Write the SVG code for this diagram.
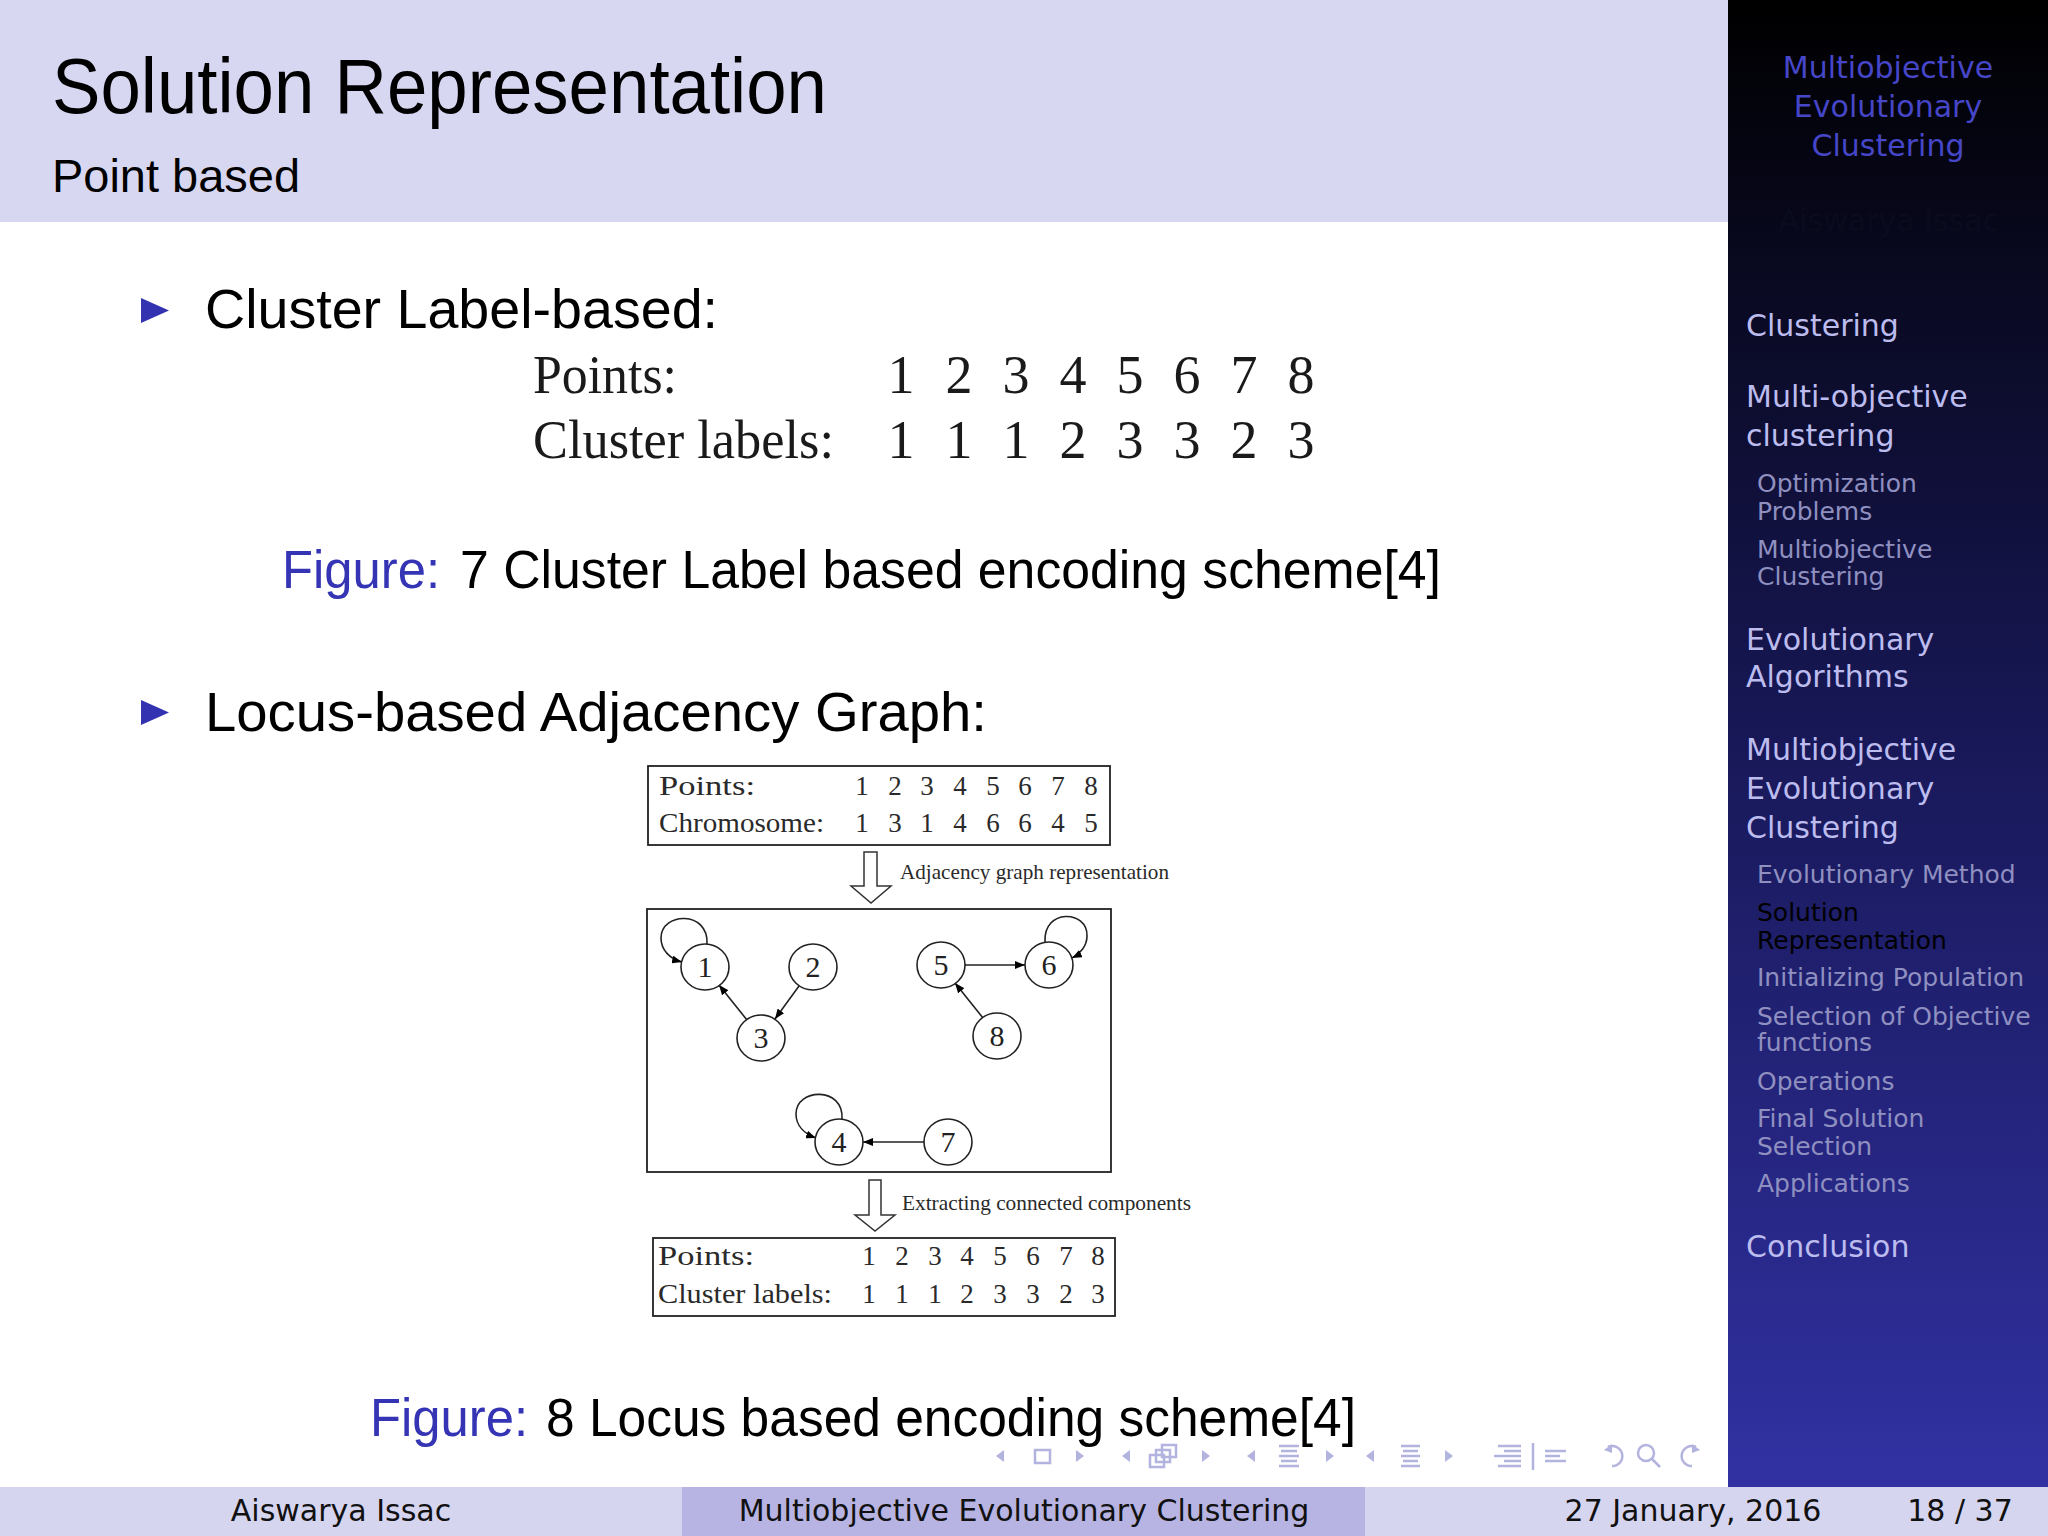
<svg xmlns="http://www.w3.org/2000/svg" width="2048" height="1536" viewBox="0 0 2048 1536">
<defs>
<linearGradient id="side" x1="0" y1="0" x2="0" y2="1">
<stop offset="0" stop-color="#000000"/>
<stop offset="0.5" stop-color="#181858"/>
<stop offset="1" stop-color="#3131a3"/>
</linearGradient>
<marker id="ah" markerUnits="userSpaceOnUse" markerWidth="10" markerHeight="8" refX="10" refY="4" orient="auto">
<path d="M0,0 L10,4 L0,8 z" fill="#000"/>
</marker>
<style>
.sans{font-family:"Liberation Sans",Arial,sans-serif}
.serif{font-family:"Liberation Serif","Times New Roman",serif}
.side{font-family:"DejaVu Sans",sans-serif}
.main{font-size:30px;fill:#bcbcef}
.sub{font-size:25px;fill:#8f90c0}
.blue{fill:#3434b4}
.node ellipse{fill:#fff;stroke:#222;stroke-width:1.6}
.node text{font-family:"Liberation Serif","Times New Roman",serif;font-size:30px;text-anchor:middle;fill:#222}
.edge{fill:none;stroke:#222;stroke-width:1.6;marker-end:url(#ah)}
.box{fill:#fff;stroke:#222;stroke-width:1.8}
.tb{font-family:"Liberation Serif","Times New Roman",serif;font-size:27px;fill:#2a2a2a}
.num{text-anchor:middle}
.nav{fill:none;stroke:#b3b3df;stroke-width:2.5}
.navf{fill:#b3b3df}
</style>
</defs>

<!-- background -->
<rect x="0" y="0" width="2048" height="1536" fill="#ffffff"/>
<rect x="0" y="0" width="1728" height="222" fill="#d8d7f1"/>
<rect x="1728" y="0" width="320" height="1487" fill="url(#side)"/>

<!-- header -->
<g id="header">
<text class="sans" x="52" y="113" font-size="78" textLength="775" lengthAdjust="spacingAndGlyphs" fill="#000">Solution Representation</text>
<text class="sans" x="52" y="192" font-size="46" textLength="248" lengthAdjust="spacingAndGlyphs" fill="#000">Point based</text>
</g>

<!-- bullet 1 -->
<g id="bullet1">
<polygon points="141,298 141,323 169,310.5" fill="#3333b2"/>
<text class="sans" x="205" y="328" font-size="56" textLength="513" lengthAdjust="spacingAndGlyphs" fill="#000">Cluster Label-based:</text>
</g>

<!-- cluster label table -->
<g id="labelTable" class="serif" font-size="54" fill="#1a1a1a">
<text x="533" y="393" textLength="144" lengthAdjust="spacingAndGlyphs">Points:</text>
<text x="533" y="458" textLength="301" lengthAdjust="spacingAndGlyphs">Cluster labels:</text>
<g text-anchor="middle">
<text x="901" y="393">1</text><text x="959" y="393">2</text><text x="1016" y="393">3</text><text x="1073" y="393">4</text>
<text x="1130" y="393">5</text><text x="1187" y="393">6</text><text x="1244" y="393">7</text><text x="1301" y="393">8</text>
<text x="901" y="458">1</text><text x="959" y="458">1</text><text x="1016" y="458">1</text><text x="1073" y="458">2</text>
<text x="1130" y="458">3</text><text x="1187" y="458">3</text><text x="1244" y="458">2</text><text x="1301" y="458">3</text>
</g>
</g>

<g id="caption7">
<text class="sans blue" x="282" y="588" font-size="53" textLength="158" lengthAdjust="spacingAndGlyphs">Figure:</text>
<text class="sans" x="460" y="588" font-size="53" textLength="981" lengthAdjust="spacingAndGlyphs" fill="#000">7 Cluster Label based encoding scheme[4]</text>
</g>

<!-- bullet 2 -->
<g id="bullet2">
<polygon points="141,700 141,725 169,712.5" fill="#3333b2"/>
<text class="sans" x="205" y="731" font-size="56" textLength="782" lengthAdjust="spacingAndGlyphs" fill="#000">Locus-based Adjacency Graph:</text>
</g>

<!-- chromosome table -->
<g id="chromTable">
<rect class="box" x="648" y="766" width="462" height="79"/>
<text class="tb" x="659" y="795" textLength="96" lengthAdjust="spacingAndGlyphs">Points:</text>
<text class="tb" x="659" y="832" textLength="165" lengthAdjust="spacingAndGlyphs">Chromosome:</text>
<g class="tb num">
<text x="862" y="795">1</text><text x="895" y="795">2</text><text x="927" y="795">3</text><text x="960" y="795">4</text>
<text x="993" y="795">5</text><text x="1025" y="795">6</text><text x="1058" y="795">7</text><text x="1091" y="795">8</text>
<text x="862" y="832">1</text><text x="895" y="832">3</text><text x="927" y="832">1</text><text x="960" y="832">4</text>
<text x="993" y="832">6</text><text x="1025" y="832">6</text><text x="1058" y="832">4</text><text x="1091" y="832">5</text>
</g>
</g>

<!-- arrow 1 -->
<g id="arrow1">
<path d="M864,852 L877,852 L877,886 L891,886 L871,903 L851,886 L864,886 Z" fill="#fff" stroke="#333" stroke-width="1.5"/>
<text class="serif" x="900" y="879" font-size="21" textLength="269" lengthAdjust="spacingAndGlyphs" fill="#2a2a2a">Adjacency graph representation</text>
</g>

<!-- graph box -->
<rect id="graphBox" class="box" x="647" y="909" width="464" height="263"/>

<g id="connectors">
<path class="edge" d="M707,944 C709,910 661,912 661,938 C661,950 670,959 682,962"/>
<path class="edge" d="M1045,942 C1043,908 1088,910 1087,936 C1087,946 1080,954 1072,958"/>
<path class="edge" d="M842,1119 C844,1086 796,1088 796,1114 C796,1126 805,1134 816,1138"/>
<path class="edge" d="M747,1020 L719,985"/>
<path class="edge" d="M799,986 L775,1019"/>
<path class="edge" d="M965,965 L1025,965"/>
<path class="edge" d="M983,1018 L955,983"/>
<path class="edge" d="M924,1142 L863,1142"/>
</g>

<g id="n1" class="node"><ellipse cx="705" cy="967" rx="24" ry="23"/><text x="705" y="977">1</text></g>
<g id="n2" class="node"><ellipse cx="813" cy="967" rx="24" ry="23"/><text x="813" y="977">2</text></g>
<g id="n3" class="node"><ellipse cx="761" cy="1038" rx="24" ry="23"/><text x="761" y="1048">3</text></g>
<g id="n4" class="node"><ellipse cx="839" cy="1142" rx="24" ry="23"/><text x="839" y="1152">4</text></g>
<g id="n5" class="node"><ellipse cx="941" cy="965" rx="24" ry="23"/><text x="941" y="975">5</text></g>
<g id="n6" class="node"><ellipse cx="1049" cy="965" rx="24" ry="23"/><text x="1049" y="975">6</text></g>
<g id="n7" class="node"><ellipse cx="948" cy="1142" rx="24" ry="23"/><text x="948" y="1152">7</text></g>
<g id="n8" class="node"><ellipse cx="997" cy="1036" rx="24" ry="23"/><text x="997" y="1046">8</text></g>

<!-- arrow 2 -->
<g id="arrow2">
<path d="M869,1180 L881,1180 L881,1215 L895,1215 L875,1231 L855,1215 L869,1215 Z" fill="#fff" stroke="#333" stroke-width="1.5"/>
<text class="serif" x="902" y="1210" font-size="21" textLength="289" lengthAdjust="spacingAndGlyphs" fill="#2a2a2a">Extracting connected components</text>
</g>

<!-- result table -->
<g id="resultTable">
<rect class="box" x="653" y="1238" width="462" height="78"/>
<text class="tb" x="658" y="1265" textLength="96" lengthAdjust="spacingAndGlyphs">Points:</text>
<text class="tb" x="658" y="1303" textLength="174" lengthAdjust="spacingAndGlyphs">Cluster labels:</text>
<g class="tb num">
<text x="869" y="1265">1</text><text x="902" y="1265">2</text><text x="935" y="1265">3</text><text x="967" y="1265">4</text>
<text x="1000" y="1265">5</text><text x="1033" y="1265">6</text><text x="1066" y="1265">7</text><text x="1098" y="1265">8</text>
<text x="869" y="1303">1</text><text x="902" y="1303">1</text><text x="935" y="1303">1</text><text x="967" y="1303">2</text>
<text x="1000" y="1303">3</text><text x="1033" y="1303">3</text><text x="1066" y="1303">2</text><text x="1098" y="1303">3</text>
</g>
</g>

<g id="caption8">
<text class="sans blue" x="370" y="1436" font-size="53" textLength="158" lengthAdjust="spacingAndGlyphs">Figure:</text>
<text class="sans" x="546" y="1436" font-size="53" textLength="810" lengthAdjust="spacingAndGlyphs" fill="#000">8 Locus based encoding scheme[4]</text>
</g>

<!-- navigation symbols -->
<g id="nav">
<polygon class="navf" points="996,1456 1004,1450 1004,1462"/>
<rect class="nav" x="1035" y="1450" width="15" height="13"/>
<polygon class="navf" points="1076,1450 1084,1456 1076,1462"/>
<polygon class="navf" points="1122,1456 1130,1450 1130,1462"/>
<rect class="nav" x="1162" y="1445" width="14" height="12" fill="#fff"/>
<rect class="nav" x="1156" y="1450" width="14" height="12" fill="#fff"/>
<rect class="nav" x="1150" y="1455" width="14" height="12" fill="#fff"/>
<polygon class="navf" points="1202,1450 1210,1456 1202,1462"/>
<polygon class="navf" points="1247,1456 1255,1450 1255,1462"/>
<g class="nav"><path d="M1279,1446 H1299 M1281,1451 H1297 M1279,1456 H1299 M1281,1461 H1297 M1279,1466 H1299"/></g>
<polygon class="navf" points="1326,1450 1334,1456 1326,1462"/>
<polygon class="navf" points="1366,1456 1374,1450 1374,1462"/>
<g class="nav"><path d="M1401,1446 H1420 M1403,1451 H1418 M1401,1456 H1420 M1403,1461 H1418 M1401,1466 H1420"/></g>
<polygon class="navf" points="1445,1450 1453,1456 1445,1462"/>
<g class="nav"><path d="M1498,1446 H1521 M1504,1451 H1521 M1494,1456 H1521 M1504,1461 H1521 M1498,1466 H1521"/></g>
<path class="nav" d="M1533,1443 V1470" stroke-width="1.5"/>
<g class="nav"><path d="M1545,1451 H1566 M1545,1456 H1560 M1545,1461 H1566"/></g>
<path class="nav" d="M1608,1447 A10,10 0 1 1 1612,1466"/>
<polygon class="navf" points="1604,1450 1612,1444 1612,1453"/>
<circle class="nav" cx="1646" cy="1453" r="8"/>
<path class="nav" d="M1652,1459 L1660,1467"/>
<path class="nav" d="M1696,1447 A10,10 0 1 0 1692,1466"/>
<polygon class="navf" points="1700,1450 1692,1444 1692,1453"/>
</g>

<!-- sidebar -->
<g id="sidebar" class="side">
<g text-anchor="middle" font-size="30" fill="#4646c8">
<text x="1888" y="78">Multiobjective</text>
<text x="1888" y="117">Evolutionary</text>
<text x="1888" y="156">Clustering</text>
</g>
<text x="1889" y="231" text-anchor="middle" font-size="30" fill="#0b0b1e">Aiswarya Issac</text>
<text class="main" x="1746" y="336">Clustering</text>
<text class="main" x="1746" y="407">Multi-objective</text>
<text class="main" x="1746" y="446">clustering</text>
<text class="sub" x="1757" y="492">Optimization</text>
<text class="sub" x="1757" y="520">Problems</text>
<text class="sub" x="1757" y="558">Multiobjective</text>
<text class="sub" x="1757" y="585">Clustering</text>
<text class="main" x="1746" y="650">Evolutionary</text>
<text class="main" x="1746" y="687">Algorithms</text>
<text class="main" x="1746" y="760">Multiobjective</text>
<text class="main" x="1746" y="799">Evolutionary</text>
<text class="main" x="1746" y="838">Clustering</text>
<text class="sub" x="1757" y="883">Evolutionary Method</text>
<text class="sub" x="1757" y="921" style="fill:#000">Solution</text>
<text class="sub" x="1757" y="949" style="fill:#000">Representation</text>
<text class="sub" x="1757" y="986">Initializing Population</text>
<text class="sub" x="1757" y="1025">Selection of Objective</text>
<text class="sub" x="1757" y="1051">functions</text>
<text class="sub" x="1757" y="1090">Operations</text>
<text class="sub" x="1757" y="1127">Final Solution</text>
<text class="sub" x="1757" y="1155">Selection</text>
<text class="sub" x="1757" y="1192">Applications</text>
<text class="main" x="1746" y="1257">Conclusion</text>
</g>

<!-- footer -->
<g id="footer">
<rect x="0" y="1487" width="682" height="49" fill="#d6d5f0"/>
<rect x="682" y="1487" width="683" height="49" fill="#b7b4e3"/>
<rect x="1365" y="1487" width="683" height="49" fill="#d6d5f0"/>
<g class="side" font-size="30" fill="#111" text-anchor="middle">
<text x="341" y="1521">Aiswarya Issac</text>
<text x="1024" y="1521">Multiobjective Evolutionary Clustering</text>
<text x="1693" y="1521">27 January, 2016</text>
<text x="1960" y="1521">18 / 37</text>
</g>
</g>
</svg>
